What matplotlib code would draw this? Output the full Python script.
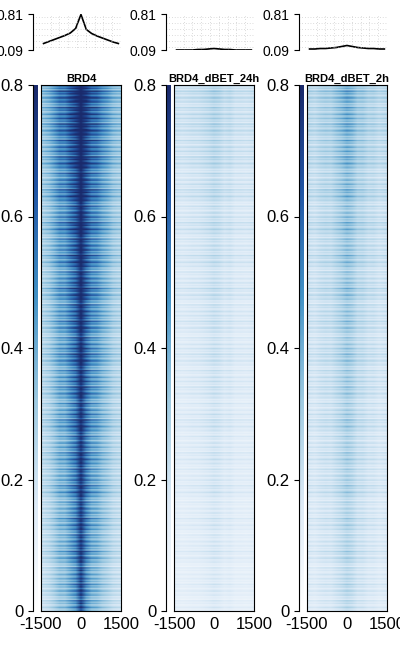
import numpy as np
import matplotlib.pyplot as plt
from matplotlib.colors import LinearSegmentedColormap

samples = ['BRD4', 'BRD4_dBET_24h', 'BRD4_dBET_2h']
# mean profile per sample, 15 bins from -1500 to 1500
bins = [-1500, -1286, -1071, -857, -643, -429, -214, 0, 214, 429, 643, 857, 1071, 1286, 1500]
profiles = [
    [0.22, 0.26, 0.30, 0.34, 0.38, 0.43, 0.52, 0.80, 0.50, 0.42, 0.37, 0.33, 0.29, 0.25, 0.22],
    [0.09, 0.09, 0.09, 0.09, 0.10, 0.10, 0.11, 0.12, 0.11, 0.10, 0.10, 0.09, 0.09, 0.09, 0.09],
    [0.11, 0.11, 0.12, 0.12, 0.13, 0.14, 0.16, 0.18, 0.16, 0.14, 0.13, 0.12, 0.12, 0.11, 0.11],
]
# heatmap colour scaling per sample
heat_gain = [1.3, 1.9, 1.9]
# relative signal per row group (top to bottom)
row_levels = [1.25, 1.15, 1.2, 1.1, 1.15, 1.0, 1.1, 0.95, 1.05, 0.95, 1.0, 0.9,
              1.0, 0.9, 0.95, 0.85, 0.95, 0.85, 0.9, 0.8, 0.9, 0.8, 0.85, 0.8,
              0.85, 0.75, 0.8, 0.75, 0.8, 0.7, 0.75, 0.7]
row_streaks = [1.2, 0.8, 1.0, 0.7, 1.3, 0.9, 1.1, 0.75, 1.0, 1.25, 0.85, 0.95]
col_noise = [1.1, 0.9, 1.0, 1.2, 0.85, 1.05, 0.95, 1.0, 1.1, 0.9, 1.15, 0.95, 1.0, 0.9, 1.05]
xticks = [-1500, 0, 1500]
cticks = [0, 0.2, 0.4, 0.6, 0.8]

cmap = LinearSegmentedColormap.from_list(
    'blues', ['#ffffff', '#deebf7', '#9ecae1', '#4292c6', '#2156a6', '#1a2a6c'])

W, H = 400, 650
fig = plt.figure(figsize=(W / 100, H / 100), dpi=100)
plt.rcParams['font.family'] = ['Liberation Sans', 'DejaVu Sans']


def box(x0, y0, x1, y1):
    return [x0 / W, 1 - y1 / H, (x1 - x0) / W, (y1 - y0) / H]


for i, name in enumerate(samples):
    off = i * 133
    prof = np.array(profiles[i])
    mat = np.outer(np.array(row_levels), prof * np.array(col_noise) ** 0.3)
    mat = np.repeat(mat, len(row_streaks), axis=0)
    mat = mat * np.tile(row_streaks, len(mat) // len(row_streaks))[:, None]
    mat = mat * heat_gain[i]

    # top profile
    ap = fig.add_axes(box(33 + off, 14, 121 + off, 50))
    ap.plot(np.linspace(0.12, 0.97, len(bins)), prof, color='black', lw=1.2)
    ap.set_xlim(0, 1)
    ap.set_ylim(0.09, 0.81)
    ap.set_yticks([0.09, 0.81])
    ap.set_yticklabels(['0.09', '0.81'], fontsize=10)
    ap.set_xticks([])
    for s in ['top', 'right', 'bottom']:
        ap.spines[s].set_visible(False)
    for gx in np.linspace(0.2, 0.9, 8):
        ap.axvline(gx, color='#bbbbbb', ls=(0, (1, 3)), lw=0.5)
    for gy in np.linspace(0.15, 0.75, 6):
        ap.axhline(gy, color='#bbbbbb', ls=(0, (1, 3)), lw=0.5)

    # heatmap
    ah = fig.add_axes(box(41 + off, 85, 121 + off, 611))
    ah.imshow(mat, aspect='auto', cmap=cmap, vmin=0, vmax=0.8,
              extent=[-1500, 1500, 0, 1], interpolation='bilinear')
    ah.set_xticks(xticks)
    ah.set_xticklabels([str(t) for t in xticks], fontsize=12)
    ah.set_yticks([])
    ah.tick_params(axis='x', length=0, pad=4)
    ah.set_title(name, fontsize=8, fontweight='bold', pad=2)

    # colorbar strip
    ac = fig.add_axes(box(33 + off, 85, 38 + off, 611))
    ac.imshow(np.linspace(0.8, 0, 200)[:, None], aspect='auto', cmap=cmap,
              vmin=0, vmax=0.8, extent=[0, 1, 0, 0.8])
    ac.set_ylim(0, 0.8)
    ac.set_yticks(cticks)
    ac.set_yticklabels(['0', '0.2', '0.4', '0.6', '0.8'], fontsize=12)
    ac.set_xticks([])
    for s in ['top', 'right', 'bottom']:
        ac.spines[s].set_visible(False)

fig.savefig('out.png', dpi=100)
